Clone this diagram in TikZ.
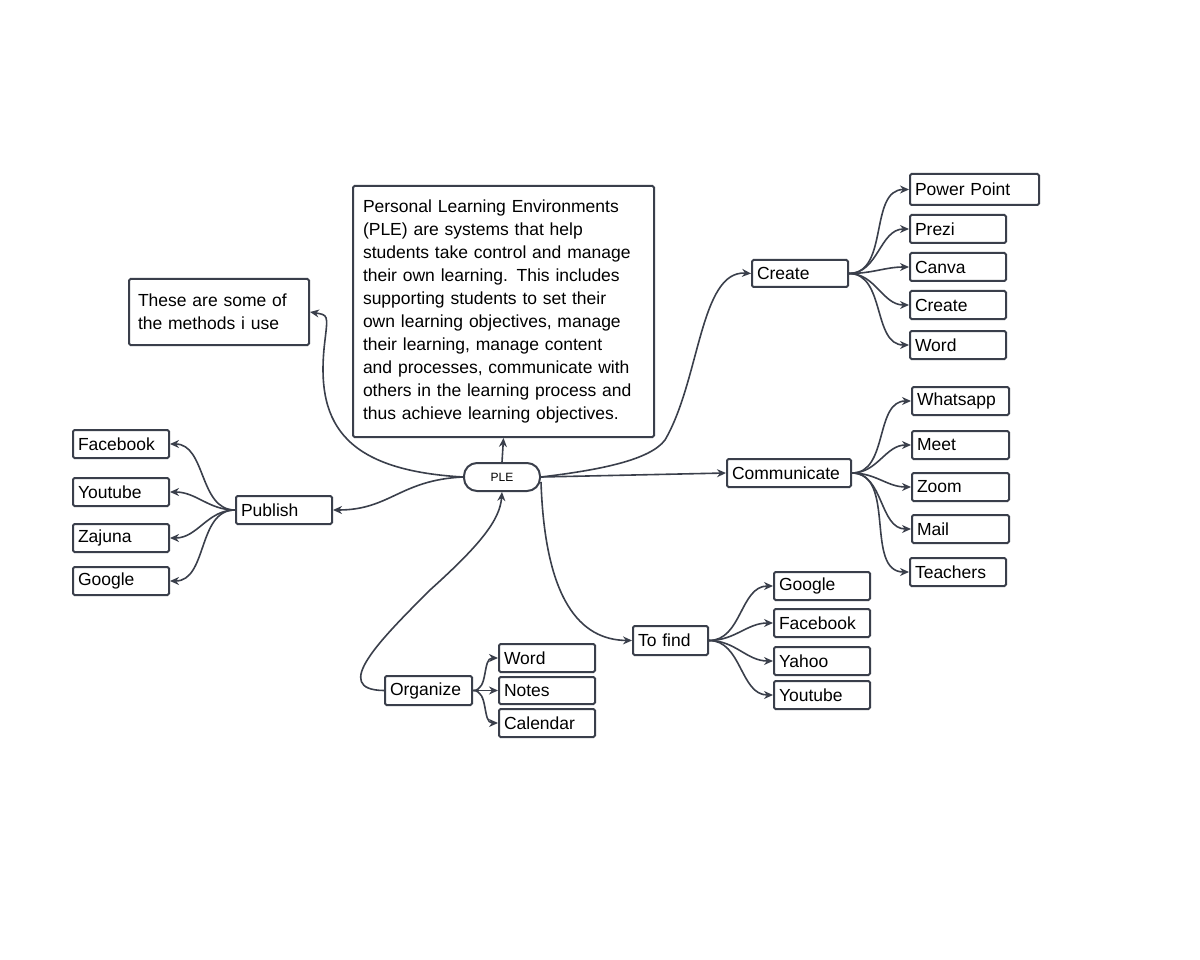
\documentclass[tikz,border=0pt]{standalone}
\usepackage{fontspec}
\setmainfont{Liberation Sans}
\usetikzlibrary{arrows.meta}
\definecolor{ln}{HTML}{3A3F4B}
\begin{document}
\begin{tikzpicture}[x=1pt,y=-1pt,
  bx/.style={draw=ln,line width=2pt,rounded corners=1.5pt,anchor=north west,align=left,inner xsep=5pt,inner ysep=0pt,font=\fontsize{17.5}{23}\selectfont},
  ar/.style={draw=ln,line width=1.6pt,-{Stealth[length=9pt,width=8pt]}}]
\useasboundingbox (0,0) rectangle (1200,960);
\newcommand\bx[6]{\node[bx,text width=#4-10,minimum height=#5] (#1) at (#2,#3) {#6};}
\node[bx,text width=281,minimum height=251,inner xsep=10pt,inner ysep=0pt] (desc) at (352,185) {Personal Learning Environments\\(PLE) are systems that help\\students take control and manage\\their own learning. This includes\\supporting students to set their\\own learning objectives, manage\\their learning, manage content\\and processes, communicate with\\others in the learning process and\\thus achieve learning objectives.};
\node[bx,text width=162,minimum height=66,inner xsep=9pt] (note) at (128,278) {These are some of\\the methods i use};
\node[draw=ln,line width=2pt,rounded corners=13pt,minimum width=76,minimum height=28,font=\fontsize{12}{14}\selectfont] (ple) at (502,477) {PLE};
\bx{create}{751}{259}{96}{27}{Create}
\bx{pp}{909}{173}{129}{31}{Power Point}
\bx{prezi}{909}{214}{96}{28}{Prezi}
\bx{canva}{909}{252}{96}{28}{Canva}
\bx{create2}{909}{290}{96}{28}{Create}
\bx{word}{909}{330}{96}{28}{Word}
\bx{comm}{726}{458}{124}{28}{Communicate}
\bx{wa}{911}{386}{97}{28}{Whatsapp}
\bx{meet}{911}{430}{97}{28}{Meet}
\bx{zoom}{911}{472}{97}{28}{Zoom}
\bx{mail}{911}{514}{97}{28}{Mail}
\bx{teach}{909}{557}{96}{28}{Teachers}
\bx{find}{632}{625}{75}{29}{To find}
\bx{fg}{773}{571}{96}{28}{Google}
\bx{ff}{773}{608}{96}{28}{Facebook}
\bx{fy}{773}{646}{96}{28}{Yahoo}
\bx{fyt}{773}{680}{96}{28}{Youtube}
\bx{org}{384}{675}{87}{29}{Organize}
\bx{ow}{498}{643}{96}{28}{Word}
\bx{on}{498}{676}{96}{27}{Notes}
\bx{oc}{498}{708}{96}{28}{Calendar}
\bx{pub}{235}{495}{96}{28}{Publish}
\bx{pf}{72}{429}{96}{28}{Facebook}
\bx{py}{72}{477}{96}{28}{Youtube}
\bx{pz}{72}{523}{96}{28}{Zajuna}
\bx{pg}{72}{566}{96}{28}{Google}
\draw[ar] (ple.north) -- (desc.south);
\draw[ar] (ple.west) .. controls (340,470) and (315,420) .. (325,340) .. controls (328,315) .. (note.east);
\draw[ar] (ple.west) .. controls (400,480) and (390,510) .. (pub.east);
\draw[ar] (ple.east) .. controls (600,470) and (650,460) .. (665,440) .. controls (700,380) and (700,270) .. (create.west);
\draw[ar] (ple.east) -- (comm.west);
\draw[ar] (541,482) .. controls (545,600) and (580,640) .. (find.west);
\draw[ar] (org.west) .. controls (330,690) and (380,640) .. (430,590) .. controls (480,545) and (500,520) .. (ple.south);
\foreach \c in {pp,prezi,canva,create2,word} \draw[ar] (create.east) to[out=0,in=180] (\c.west);
\foreach \c in {wa,meet,zoom,mail,teach} \draw[ar] (comm.east) to[out=0,in=180] (\c.west);
\foreach \c in {fg,ff,fy,fyt} \draw[ar] (find.east) to[out=0,in=180] (\c.west);
\foreach \c in {ow,on,oc} \draw[ar] (org.east) to[out=0,in=180] (\c.west);
\foreach \c in {pf,py,pz,pg} \draw[ar] (pub.west) to[out=180,in=0] (\c.east);
\end{tikzpicture}
\end{document}
